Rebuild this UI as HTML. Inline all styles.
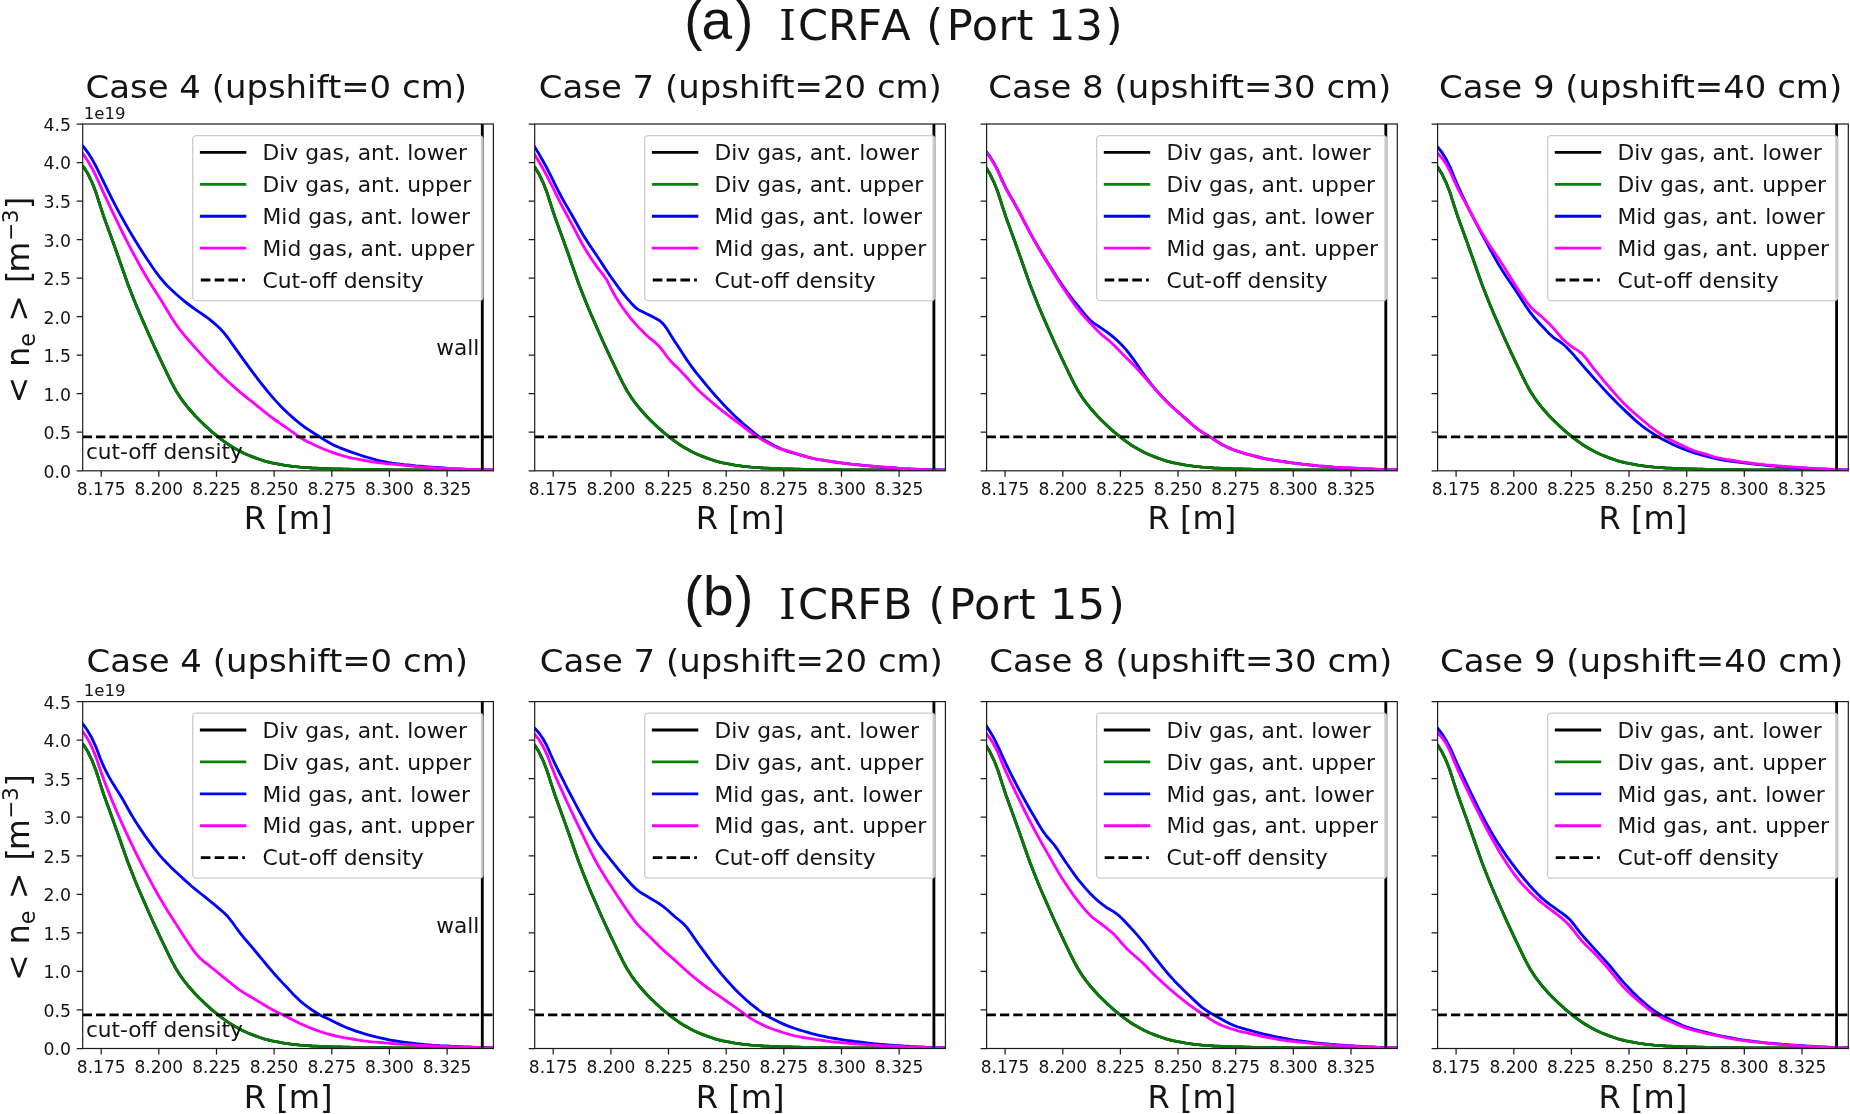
<!DOCTYPE html>
<html lang="en"><head><meta charset="utf-8"><title>ICRF antenna density profiles</title>
<style>html,body{margin:0;padding:0;background:#fff}body{width:1850px;height:1114px;overflow:hidden}svg{display:block;filter:blur(0.45px)}text{font-family:"DejaVu Sans","Liberation Sans",sans-serif;fill:#141414}.la{font-family:"Liberation Sans","DejaVu Sans",sans-serif;font-size:55px}.st{font-size:43px}.sm{font-family:"DejaVu Serif","Liberation Serif",serif}.ti{font-size:32.8px}.tk{font-size:17px}.yk{font-size:17.3px}.ex{font-size:16.6px}.lg{font-size:21.7px}.xl{font-size:32.1px}.yl{font-size:31.6px}.sp{fill:none;stroke:#1c1c1c;stroke-width:1.2}.tm{stroke:#1c1c1c;stroke-width:1.25}.c{fill:none;stroke-width:2.85;stroke-linejoin:round;stroke-linecap:butt}</style></head><body>
<svg width="1850" height="1114" viewBox="0 0 1850 1114">
<rect width="1850" height="1114" fill="#fff"/>
<text class="la" x="684.2 701.5 734.9" y="39.1">(a)</text>
<text class="st" x="779 798 828 857.3 881.2 912 926.3 946.7 971.8 998.5 1016.6 1035 1047.9 1075.5 1105.7" y="39.7"><tspan class="sm">I</tspan>CRFA (Port 13)</text>
<g>
<clipPath id="k00"><rect x="82.7" y="124" width="410.7" height="346.8"/></clipPath>
<text class="ti" transform="translate(276.2 97.8) scale(1.035 1)" text-anchor="middle">Case 4 (upshift=0 cm)</text>
<g clip-path="url(#k00)">
<path class="c" stroke="#000" stroke-width="3" d="M80 163.5L84 167.6L88 174.1L92 182.3L96 192.5L100 205.1L104 217.2L108 228.3L112 239.3L116 250.4L120 261.8L124 273.2L128 284.4L132 294.8L136 304.7L140 314.2L144 323.4L148 332.5L152 341.5L156 350.2L160 358.7L164 367L168 375.4L172 383.4L176 390.7L180 397.1L184 402.7L188 407.7L192 412.3L196 416.7L200 420.7L204 424.6L208 428.3L212 431.9L216 435.2L220 438.4L224 441.4L228 444.2L232 446.8L236 449.1L240 451.2L244 453.2L248 455L252 456.6L256 458.1L260 459.5L264 460.8L268 462L272 462.9L276 463.7L280 464.4L284 465.1L288 465.7L292 466.3L296 466.7L300 467.1L304 467.4L308 467.7L312 468L316 468.2L320 468.4L324 468.6L328 468.7L332 468.8L336 468.9L340 469L344 469.1L348 469.2L352 469.3L356 469.3L360 469.4L364 469.5L368 469.5L372 469.6L376 469.6L380 469.7L384 469.7L388 469.7L392 469.8L396 469.8L400 469.8L404 469.8L408 469.9L412 469.9L416 469.9L420 469.9L424 469.9L428 470L432 470L436 470L440 470L444 470L448 470L452 470L456 470.1L460 470.1L464 470.1L468 470.1L472 470.1L476 470.1L480 470.1L484 470.1L488 470.1L492 470.1L496 470.1"/>
<path class="c" stroke="#087a08" stroke-width="2" d="M80 163.5L84 167.6L88 174.1L92 182.3L96 192.5L100 205.1L104 217.2L108 228.3L112 239.3L116 250.4L120 261.8L124 273.2L128 284.4L132 294.8L136 304.7L140 314.2L144 323.4L148 332.5L152 341.5L156 350.2L160 358.7L164 367L168 375.4L172 383.4L176 390.7L180 397.1L184 402.7L188 407.7L192 412.3L196 416.7L200 420.7L204 424.6L208 428.3L212 431.9L216 435.2L220 438.4L224 441.4L228 444.2L232 446.8L236 449.1L240 451.2L244 453.2L248 455L252 456.6L256 458.1L260 459.5L264 460.8L268 462L272 462.9L276 463.7L280 464.4L284 465.1L288 465.7L292 466.3L296 466.7L300 467.1L304 467.4L308 467.7L312 468L316 468.2L320 468.4L324 468.6L328 468.7L332 468.8L336 468.9L340 469L344 469.1L348 469.2L352 469.3L356 469.3L360 469.4L364 469.5L368 469.5L372 469.6L376 469.6L380 469.7L384 469.7L388 469.7L392 469.8L396 469.8L400 469.8L404 469.8L408 469.9L412 469.9L416 469.9L420 469.9L424 469.9L428 470L432 470L436 470L440 470L444 470L448 470L452 470L456 470.1L460 470.1L464 470.1L468 470.1L472 470.1L476 470.1L480 470.1L484 470.1L488 470.1L492 470.1L496 470.1"/>
<path class="c" stroke="#0000ff" d="M80 142.9L84 147.4L88 152.8L92 159.1L96 166.3L100 174.5L104 182.7L108 190.8L112 198.9L116 206.6L120 214.1L124 221.3L128 228.4L132 235.2L136 241.8L140 248.2L144 254.5L148 260.5L152 266.5L156 272.2L160 277.5L164 282.2L168 286.4L172 290.3L176 294L180 297.5L184 300.9L188 304L192 307L196 309.9L200 312.6L204 315.3L208 318.2L212 321.4L216 324.8L220 328.5L224 332.9L228 338L232 343.6L236 349.3L240 354.8L244 360.3L248 365.8L252 371.3L256 376.6L260 381.8L264 386.9L268 391.9L272 396.6L276 401.1L280 405.4L284 409.4L288 413.3L292 416.9L296 420.4L300 423.7L304 426.7L308 429.4L312 432L316 434.5L320 437L324 439.6L328 442L332 444.3L336 446.1L340 447.8L344 449.3L348 450.8L352 452.3L356 453.7L360 455L364 456.3L368 457.5L372 458.7L376 459.8L380 460.8L384 461.6L388 462.4L392 463.1L396 463.6L400 464.1L404 464.6L408 465L412 465.4L416 465.8L420 466.1L424 466.5L428 466.8L432 467.1L436 467.4L440 467.7L444 468L448 468.3L452 468.6L456 468.8L460 469L464 469.1L468 469.3L472 469.5L476 469.6L480 469.8L484 469.9L488 470L492 470.1L496 470.1"/>
<path class="c" stroke="#ff00ff" d="M80 150L84 155.2L88 161.3L92 168.2L96 176.1L100 185L104 193.8L108 202.4L112 210.9L116 219.2L120 227.4L124 235.5L128 243.4L132 251L136 258.4L140 265.7L144 272.7L148 279.5L152 286L156 292.3L160 298.6L164 305L168 311.7L172 318.3L176 324.4L180 329.9L184 334.8L188 339.5L192 344L196 348.6L200 353L204 357.4L208 361.7L212 365.8L216 369.9L220 373.9L224 377.7L228 381.5L232 385.1L236 388.7L240 392.1L244 395.4L248 398.6L252 401.7L256 404.9L260 408.2L264 411.4L268 414.6L272 417.6L276 420.5L280 423.3L284 426L288 428.8L292 431.7L296 434.7L300 437.4L304 439.7L308 441.9L312 443.8L316 445.7L320 447.5L324 449.2L328 450.8L332 452.2L336 453.6L340 454.9L344 456.1L348 457.1L352 458.1L356 458.9L360 459.7L364 460.4L368 461.1L372 461.8L376 462.4L380 462.9L384 463.4L388 463.8L392 464.2L396 464.5L400 464.9L404 465.3L408 465.7L412 466.1L416 466.5L420 466.8L424 467.1L428 467.4L432 467.6L436 467.9L440 468.1L444 468.3L448 468.4L452 468.6L456 468.8L460 468.9L464 469.1L468 469.3L472 469.4L476 469.6L480 469.7L484 469.8L488 469.9L492 470.1L496 470.2"/>
<path class="c" stroke="#000" stroke-width="2.4" stroke-dasharray="9.3 4.05" d="M82.7 436.8H493.4"/>
<path class="c" stroke="#000" stroke-width="2.7" d="M482.3 124V470.8"/>
</g>
<text class="lg" x="479.3" y="355.4" text-anchor="end">wall</text>
<text class="lg" x="85.9" y="459.4">cut-off density</text>
<rect x="192.7" y="135.6" width="290.2" height="165" rx="3.5" fill="#fff" fill-opacity="0.8" stroke="#ccc" stroke-width="1.3"/>
<path class="c" stroke="#000" d="M199.9 152.4H246.3"/>
<text class="lg" transform="translate(262.5 160.1) scale(1.006 1)">Div gas, ant. lower</text>
<path class="c" stroke="#0a800a" d="M199.9 184.3H246.3"/>
<text class="lg" transform="translate(262.5 192) scale(1.006 1)">Div gas, ant. upper</text>
<path class="c" stroke="#0000ff" d="M199.9 216.2H246.3"/>
<text class="lg" transform="translate(262.5 223.9) scale(1.006 1)">Mid gas, ant. lower</text>
<path class="c" stroke="#ff00ff" d="M199.9 248.1H246.3"/>
<text class="lg" transform="translate(262.5 255.8) scale(1.006 1)">Mid gas, ant. upper</text>
<path class="c" stroke="#000" stroke-width="2.4" stroke-dasharray="9.6 4.2" d="M200.8 280H244.9"/>
<text class="lg" transform="translate(262.5 287.7) scale(1.006 1)">Cut-off density</text>
<rect class="sp" x="82.7" y="124" width="410.7" height="346.8"/>
<path class="tm" d="M101.2 470.8v6M158.8 470.8v6M216.5 470.8v6M274.1 470.8v6M331.8 470.8v6M389.4 470.8v6M447.1 470.8v6M82.7 470.8h-6M82.7 432.2h-6M82.7 393.7h-6M82.7 355.2h-6M82.7 316.6h-6M82.7 278.1h-6M82.7 239.6h-6M82.7 201.1h-6M82.7 162.5h-6M82.7 124h-6"/>
<text class="tk" x="101.2" y="495" text-anchor="middle">8.175</text>
<text class="tk" x="158.8" y="495" text-anchor="middle">8.200</text>
<text class="tk" x="216.5" y="495" text-anchor="middle">8.225</text>
<text class="tk" x="274.1" y="495" text-anchor="middle">8.250</text>
<text class="tk" x="331.8" y="495" text-anchor="middle">8.275</text>
<text class="tk" x="389.4" y="495" text-anchor="middle">8.300</text>
<text class="tk" x="447.1" y="495" text-anchor="middle">8.325</text>
<text class="yk" x="71.1" y="477.6" text-anchor="end">0.0</text>
<text class="yk" x="71.1" y="439.1" text-anchor="end">0.5</text>
<text class="yk" x="71.1" y="400.6" text-anchor="end">1.0</text>
<text class="yk" x="71.1" y="362.1" text-anchor="end">1.5</text>
<text class="yk" x="71.1" y="323.5" text-anchor="end">2.0</text>
<text class="yk" x="71.1" y="285" text-anchor="end">2.5</text>
<text class="yk" x="71.1" y="246.5" text-anchor="end">3.0</text>
<text class="yk" x="71.1" y="208" text-anchor="end">3.5</text>
<text class="yk" x="71.1" y="169.4" text-anchor="end">4.0</text>
<text class="yk" x="71.1" y="130.9" text-anchor="end">4.5</text>
<text class="ex" x="83.7" y="119">1e19</text>
<text class="yl" transform="translate(29.3 299.9) rotate(-90)" text-anchor="middle">&lt; n<tspan dy="5.3" font-size="22.1px">e</tspan><tspan dy="-5.3" dx="1.5"> &gt;</tspan><tspan dx="2"> [</tspan><tspan dx="-1.8">m</tspan><tspan dy="-11.2" dx="0.6" font-size="21.6px">−</tspan><tspan dx="-0.3" font-size="21.6px">3</tspan><tspan dy="11.2" dx="0.6">]</tspan></text>
<text class="xl" x="288.1" y="529.2" text-anchor="middle">R [m]</text>
</g>
<g>
<clipPath id="k01"><rect x="534.7" y="124" width="410.7" height="346.8"/></clipPath>
<text class="ti" transform="translate(740.3 97.8) scale(1.035 1)" text-anchor="middle">Case 7 (upshift=20 cm)</text>
<g clip-path="url(#k01)">
<path class="c" stroke="#000" stroke-width="3" d="M531 163.5L535 167.6L539 174.1L543 182.3L547 192.5L551 205.1L555 217.2L559 228.3L563 239.3L567 250.4L571 261.8L575 273.2L579 284.4L583 294.8L587 304.7L591 314.2L595 323.4L599 332.5L603 341.5L607 350.2L611 358.7L615 367L619 375.4L623 383.4L627 390.7L631 397.1L635 402.7L639 407.7L643 412.3L647 416.7L651 420.7L655 424.6L659 428.3L663 431.9L667 435.2L671 438.4L675 441.4L679 444.2L683 446.8L687 449.1L691 451.2L695 453.2L699 455L703 456.6L707 458.1L711 459.5L715 460.8L719 462L723 462.9L727 463.7L731 464.4L735 465.1L739 465.7L743 466.3L747 466.7L751 467.1L755 467.4L759 467.7L763 468L767 468.2L771 468.4L775 468.6L779 468.7L783 468.8L787 468.9L791 469L795 469.1L799 469.2L803 469.3L807 469.3L811 469.4L815 469.5L819 469.5L823 469.6L827 469.6L831 469.7L835 469.7L839 469.7L843 469.8L847 469.8L851 469.8L855 469.8L859 469.9L863 469.9L867 469.9L871 469.9L875 469.9L879 470L883 470L887 470L891 470L895 470L899 470L903 470L907 470.1L911 470.1L915 470.1L919 470.1L923 470.1L927 470.1L931 470.1L935 470.1L939 470.1L943 470.1L947 470.1"/>
<path class="c" stroke="#087a08" stroke-width="2" d="M531 163.5L535 167.6L539 174.1L543 182.3L547 192.5L551 205.1L555 217.2L559 228.3L563 239.3L567 250.4L571 261.8L575 273.2L579 284.4L583 294.8L587 304.7L591 314.2L595 323.4L599 332.5L603 341.5L607 350.2L611 358.7L615 367L619 375.4L623 383.4L627 390.7L631 397.1L635 402.7L639 407.7L643 412.3L647 416.7L651 420.7L655 424.6L659 428.3L663 431.9L667 435.2L671 438.4L675 441.4L679 444.2L683 446.8L687 449.1L691 451.2L695 453.2L699 455L703 456.6L707 458.1L711 459.5L715 460.8L719 462L723 462.9L727 463.7L731 464.4L735 465.1L739 465.7L743 466.3L747 466.7L751 467.1L755 467.4L759 467.7L763 468L767 468.2L771 468.4L775 468.6L779 468.7L783 468.8L787 468.9L791 469L795 469.1L799 469.2L803 469.3L807 469.3L811 469.4L815 469.5L819 469.5L823 469.6L827 469.6L831 469.7L835 469.7L839 469.7L843 469.8L847 469.8L851 469.8L855 469.8L859 469.9L863 469.9L867 469.9L871 469.9L875 469.9L879 470L883 470L887 470L891 470L895 470L899 470L903 470L907 470.1L911 470.1L915 470.1L919 470.1L923 470.1L927 470.1L931 470.1L935 470.1L939 470.1L943 470.1L947 470.1"/>
<path class="c" stroke="#0000ff" d="M531 141L535 147.4L539 154L543 161L547 168.3L551 176.1L555 184.3L559 192.3L563 199.7L567 206.6L571 213.5L575 220.5L579 227.7L583 234.7L587 241.1L591 247.1L595 253L599 259L603 265.1L607 271.2L611 277.1L615 282.7L619 288.2L623 293.5L627 298.3L631 302.9L635 307.1L639 310.1L643 312.1L647 314L651 315.9L655 317.9L659 320.2L663 323.6L667 328.9L671 335.4L675 341.8L679 347.8L683 354L687 360.1L691 365.8L695 371.1L699 376.1L703 381L707 385.8L711 390.6L715 395.2L719 399.6L723 404L727 408.2L731 412.3L735 416.2L739 419.9L743 423.5L747 426.9L751 430.3L755 433.6L759 436.6L763 439.2L767 441.6L771 443.8L775 446L779 447.9L783 449.7L787 451.1L791 452.4L795 453.5L799 454.6L803 455.7L807 456.9L811 457.9L815 458.8L819 459.6L823 460.2L827 460.8L831 461.4L835 462L839 462.6L843 463.1L847 463.6L851 464.1L855 464.5L859 464.9L863 465.4L867 465.7L871 466.1L875 466.5L879 466.8L883 467.1L887 467.4L891 467.7L895 468L899 468.3L903 468.6L907 468.8L911 469L915 469.1L919 469.3L923 469.5L927 469.6L931 469.8L935 469.9L939 470L943 470.1L947 470.1"/>
<path class="c" stroke="#ff00ff" d="M531 148.8L535 155.2L539 161.8L543 168.8L547 176.1L551 183.8L555 192L559 200.1L563 207.8L567 215.2L571 222.7L575 230.2L579 238L583 245.4L587 252.1L591 258.2L595 264L599 269.6L603 274.6L607 280.3L611 288.5L615 295.8L619 302.3L623 308.2L627 313.7L631 318.8L635 323.4L639 327.8L643 331.8L647 335.7L651 339.2L655 342.4L659 346.1L663 351L667 356.7L671 361.4L675 365.4L679 369.2L683 373.4L687 377.8L691 382.4L695 386.8L699 390.8L703 394.5L707 398L711 401.5L715 404.9L719 408.1L723 411.3L727 414.4L731 417.5L735 420.4L739 423.4L743 426.4L747 429.5L751 432.5L755 435.3L759 437.9L763 440.3L767 442.6L771 444.8L775 446.7L779 448.4L783 449.6L787 450.7L791 451.9L795 453.2L799 454.6L803 455.8L807 456.9L811 457.9L815 458.8L819 459.6L823 460.2L827 460.8L831 461.4L835 462L839 462.6L843 463.1L847 463.6L851 464.1L855 464.5L859 464.9L863 465.4L867 465.7L871 466.1L875 466.5L879 466.8L883 467.1L887 467.4L891 467.7L895 468L899 468.3L903 468.6L907 468.8L911 469L915 469.1L919 469.3L923 469.5L927 469.6L931 469.8L935 469.9L939 470L943 470.1L947 470.1"/>
<path class="c" stroke="#000" stroke-width="2.4" stroke-dasharray="9.3 4.05" d="M534.7 436.8H945.4"/>
<path class="c" stroke="#000" stroke-width="2.7" d="M933.9 124V470.8"/>
</g>
<rect x="644.7" y="135.6" width="290.2" height="165" rx="3.5" fill="#fff" fill-opacity="0.8" stroke="#ccc" stroke-width="1.3"/>
<path class="c" stroke="#000" d="M651.9 152.4H698.3"/>
<text class="lg" transform="translate(714.5 160.1) scale(1.006 1)">Div gas, ant. lower</text>
<path class="c" stroke="#0a800a" d="M651.9 184.3H698.3"/>
<text class="lg" transform="translate(714.5 192) scale(1.006 1)">Div gas, ant. upper</text>
<path class="c" stroke="#0000ff" d="M651.9 216.2H698.3"/>
<text class="lg" transform="translate(714.5 223.9) scale(1.006 1)">Mid gas, ant. lower</text>
<path class="c" stroke="#ff00ff" d="M651.9 248.1H698.3"/>
<text class="lg" transform="translate(714.5 255.8) scale(1.006 1)">Mid gas, ant. upper</text>
<path class="c" stroke="#000" stroke-width="2.4" stroke-dasharray="9.6 4.2" d="M652.8 280H696.9"/>
<text class="lg" transform="translate(714.5 287.7) scale(1.006 1)">Cut-off density</text>
<rect class="sp" x="534.7" y="124" width="410.7" height="346.8"/>
<path class="tm" d="M553.2 470.8v6M610.9 470.8v6M668.5 470.8v6M726.2 470.8v6M783.8 470.8v6M841.5 470.8v6M899.1 470.8v6M534.7 470.8h-6M534.7 432.2h-6M534.7 393.7h-6M534.7 355.2h-6M534.7 316.6h-6M534.7 278.1h-6M534.7 239.6h-6M534.7 201.1h-6M534.7 162.5h-6M534.7 124h-6"/>
<text class="tk" x="553.2" y="495" text-anchor="middle">8.175</text>
<text class="tk" x="610.9" y="495" text-anchor="middle">8.200</text>
<text class="tk" x="668.5" y="495" text-anchor="middle">8.225</text>
<text class="tk" x="726.2" y="495" text-anchor="middle">8.250</text>
<text class="tk" x="783.8" y="495" text-anchor="middle">8.275</text>
<text class="tk" x="841.5" y="495" text-anchor="middle">8.300</text>
<text class="tk" x="899.1" y="495" text-anchor="middle">8.325</text>
<text class="xl" x="740.1" y="529.2" text-anchor="middle">R [m]</text>
</g>
<g>
<clipPath id="k02"><rect x="986.6" y="124" width="410.7" height="346.8"/></clipPath>
<text class="ti" transform="translate(1189.8 97.8) scale(1.035 1)" text-anchor="middle">Case 8 (upshift=30 cm)</text>
<g clip-path="url(#k02)">
<path class="c" stroke="#000" stroke-width="3" d="M982 163.5L986 167.6L990 174.1L994 182.3L998 192.5L1002 205.1L1006 217.2L1010 228.3L1014 239.3L1018 250.4L1022 261.8L1026 273.2L1030 284.4L1034 294.8L1038 304.7L1042 314.2L1046 323.4L1050 332.5L1054 341.5L1058 350.2L1062 358.7L1066 367L1070 375.4L1074 383.4L1078 390.7L1082 397.1L1086 402.7L1090 407.7L1094 412.3L1098 416.7L1102 420.7L1106 424.6L1110 428.3L1114 431.9L1118 435.2L1122 438.4L1126 441.4L1130 444.2L1134 446.8L1138 449.1L1142 451.2L1146 453.2L1150 455L1154 456.6L1158 458.1L1162 459.5L1166 460.8L1170 462L1174 462.9L1178 463.7L1182 464.4L1186 465.1L1190 465.7L1194 466.3L1198 466.7L1202 467.1L1206 467.4L1210 467.7L1214 468L1218 468.2L1222 468.4L1226 468.6L1230 468.7L1234 468.8L1238 468.9L1242 469L1246 469.1L1250 469.2L1254 469.3L1258 469.3L1262 469.4L1266 469.5L1270 469.5L1274 469.6L1278 469.6L1282 469.7L1286 469.7L1290 469.7L1294 469.8L1298 469.8L1302 469.8L1306 469.8L1310 469.9L1314 469.9L1318 469.9L1322 469.9L1326 469.9L1330 470L1334 470L1338 470L1342 470L1346 470L1350 470L1354 470L1358 470.1L1362 470.1L1366 470.1L1370 470.1L1374 470.1L1378 470.1L1382 470.1L1386 470.1L1390 470.1L1394 470.1L1398 470.1"/>
<path class="c" stroke="#087a08" stroke-width="2" d="M982 163.5L986 167.6L990 174.1L994 182.3L998 192.5L1002 205.1L1006 217.2L1010 228.3L1014 239.3L1018 250.4L1022 261.8L1026 273.2L1030 284.4L1034 294.8L1038 304.7L1042 314.2L1046 323.4L1050 332.5L1054 341.5L1058 350.2L1062 358.7L1066 367L1070 375.4L1074 383.4L1078 390.7L1082 397.1L1086 402.7L1090 407.7L1094 412.3L1098 416.7L1102 420.7L1106 424.6L1110 428.3L1114 431.9L1118 435.2L1122 438.4L1126 441.4L1130 444.2L1134 446.8L1138 449.1L1142 451.2L1146 453.2L1150 455L1154 456.6L1158 458.1L1162 459.5L1166 460.8L1170 462L1174 462.9L1178 463.7L1182 464.4L1186 465.1L1190 465.7L1194 466.3L1198 466.7L1202 467.1L1206 467.4L1210 467.7L1214 468L1218 468.2L1222 468.4L1226 468.6L1230 468.7L1234 468.8L1238 468.9L1242 469L1246 469.1L1250 469.2L1254 469.3L1258 469.3L1262 469.4L1266 469.5L1270 469.5L1274 469.6L1278 469.6L1282 469.7L1286 469.7L1290 469.7L1294 469.8L1298 469.8L1302 469.8L1306 469.8L1310 469.9L1314 469.9L1318 469.9L1322 469.9L1326 469.9L1330 470L1334 470L1338 470L1342 470L1346 470L1350 470L1354 470L1358 470.1L1362 470.1L1366 470.1L1370 470.1L1374 470.1L1378 470.1L1382 470.1L1386 470.1L1390 470.1L1394 470.1L1398 470.1"/>
<path class="c" stroke="#0000ff" d="M982 147.5L986 151.4L990 156.7L994 163.1L998 170.8L1002 179.9L1006 188.2L1010 195.5L1014 202.5L1018 209.7L1022 217.3L1026 225.1L1030 232.7L1034 239.9L1038 246.8L1042 253.4L1046 259.9L1050 266.3L1054 272.6L1058 278.9L1062 284.9L1066 290.5L1070 295.9L1074 301.1L1078 306L1082 310.9L1086 315.8L1090 320.1L1094 323.4L1098 325.9L1102 328.6L1106 331.4L1110 334.4L1114 337.6L1118 341.3L1122 345.3L1126 349.6L1130 354.7L1134 360.2L1138 365.8L1142 371.7L1146 377.4L1150 382.7L1154 387.6L1158 392.3L1162 396.7L1166 400.8L1170 404.7L1174 408.5L1178 412L1182 415.5L1186 418.9L1190 422.6L1194 426.2L1198 429.4L1202 432.1L1206 434.5L1210 436.9L1214 439.5L1218 442.1L1222 444.5L1226 446.5L1230 448.4L1234 450L1238 451.4L1242 452.7L1246 453.9L1250 454.9L1254 456L1258 457L1262 458L1266 458.8L1270 459.5L1274 460.2L1278 460.8L1282 461.4L1286 462L1290 462.6L1294 463.1L1298 463.6L1302 464.1L1306 464.5L1310 465L1314 465.4L1318 465.8L1322 466.1L1326 466.5L1330 466.8L1334 467.1L1338 467.3L1342 467.6L1346 467.8L1350 468L1354 468.2L1358 468.5L1362 468.7L1366 468.9L1370 469L1374 469.2L1378 469.4L1382 469.6L1386 469.7L1390 469.9L1394 470L1398 470.2"/>
<path class="c" stroke="#ff00ff" d="M982 148.1L986 152L990 157.3L994 163.7L998 171.4L1002 180.6L1006 188.8L1010 195.8L1014 202.6L1018 209.7L1022 217.2L1026 225L1030 232.7L1034 240L1038 246.9L1042 253.7L1046 260.4L1050 267L1054 273.6L1058 280L1062 286.3L1066 292.3L1070 298.1L1074 303.8L1078 309.1L1082 314L1086 318.6L1090 322.9L1094 327.1L1098 331.2L1102 334.9L1106 338.2L1110 341.5L1114 345.3L1118 349.3L1122 353.4L1126 357.4L1130 361.4L1134 365.4L1138 369.7L1142 374.2L1146 378.7L1150 383.3L1154 387.9L1158 392.4L1162 396.7L1166 400.8L1170 404.7L1174 408.5L1178 412L1182 415.5L1186 418.9L1190 422.6L1194 426.2L1198 429.4L1202 432.1L1206 434.5L1210 436.9L1214 439.5L1218 442.1L1222 444.5L1226 446.5L1230 448.4L1234 450L1238 451.4L1242 452.7L1246 453.9L1250 454.9L1254 456L1258 457L1262 458L1266 458.8L1270 459.5L1274 460.2L1278 460.8L1282 461.4L1286 462L1290 462.6L1294 463.1L1298 463.6L1302 464.1L1306 464.5L1310 465L1314 465.4L1318 465.8L1322 466.1L1326 466.5L1330 466.8L1334 467.1L1338 467.3L1342 467.6L1346 467.8L1350 468L1354 468.2L1358 468.5L1362 468.7L1366 468.9L1370 469L1374 469.2L1378 469.4L1382 469.6L1386 469.7L1390 469.9L1394 470L1398 470.2"/>
<path class="c" stroke="#000" stroke-width="2.4" stroke-dasharray="9.3 4.05" d="M986.6 436.8H1397.3"/>
<path class="c" stroke="#000" stroke-width="2.7" d="M1385.8 124V470.8"/>
</g>
<rect x="1096.6" y="135.6" width="290.2" height="165" rx="3.5" fill="#fff" fill-opacity="0.8" stroke="#ccc" stroke-width="1.3"/>
<path class="c" stroke="#000" d="M1103.8 152.4H1150.2"/>
<text class="lg" transform="translate(1166.4 160.1) scale(1.006 1)">Div gas, ant. lower</text>
<path class="c" stroke="#0a800a" d="M1103.8 184.3H1150.2"/>
<text class="lg" transform="translate(1166.4 192) scale(1.006 1)">Div gas, ant. upper</text>
<path class="c" stroke="#0000ff" d="M1103.8 216.2H1150.2"/>
<text class="lg" transform="translate(1166.4 223.9) scale(1.006 1)">Mid gas, ant. lower</text>
<path class="c" stroke="#ff00ff" d="M1103.8 248.1H1150.2"/>
<text class="lg" transform="translate(1166.4 255.8) scale(1.006 1)">Mid gas, ant. upper</text>
<path class="c" stroke="#000" stroke-width="2.4" stroke-dasharray="9.6 4.2" d="M1104.7 280H1148.8"/>
<text class="lg" transform="translate(1166.4 287.7) scale(1.006 1)">Cut-off density</text>
<rect class="sp" x="986.6" y="124" width="410.7" height="346.8"/>
<path class="tm" d="M1005.1 470.8v6M1062.8 470.8v6M1120.4 470.8v6M1178 470.8v6M1235.7 470.8v6M1293.3 470.8v6M1351 470.8v6M986.6 470.8h-6M986.6 432.2h-6M986.6 393.7h-6M986.6 355.2h-6M986.6 316.6h-6M986.6 278.1h-6M986.6 239.6h-6M986.6 201.1h-6M986.6 162.5h-6M986.6 124h-6"/>
<text class="tk" x="1005.1" y="495" text-anchor="middle">8.175</text>
<text class="tk" x="1062.8" y="495" text-anchor="middle">8.200</text>
<text class="tk" x="1120.4" y="495" text-anchor="middle">8.225</text>
<text class="tk" x="1178" y="495" text-anchor="middle">8.250</text>
<text class="tk" x="1235.7" y="495" text-anchor="middle">8.275</text>
<text class="tk" x="1293.3" y="495" text-anchor="middle">8.300</text>
<text class="tk" x="1351" y="495" text-anchor="middle">8.325</text>
<text class="xl" x="1192" y="529.2" text-anchor="middle">R [m]</text>
</g>
<g>
<clipPath id="k03"><rect x="1437.6" y="124" width="410.7" height="346.8"/></clipPath>
<text class="ti" transform="translate(1640.6 97.8) scale(1.035 1)" text-anchor="middle">Case 9 (upshift=40 cm)</text>
<g clip-path="url(#k03)">
<path class="c" stroke="#000" stroke-width="3" d="M1434 163.5L1438 167.6L1442 174.1L1446 182.3L1450 192.5L1454 205.1L1458 217.2L1462 228.3L1466 239.3L1470 250.4L1474 261.8L1478 273.2L1482 284.4L1486 294.8L1490 304.7L1494 314.2L1498 323.4L1502 332.5L1506 341.5L1510 350.2L1514 358.7L1518 367L1522 375.4L1526 383.4L1530 390.7L1534 397.1L1538 402.7L1542 407.7L1546 412.3L1550 416.7L1554 420.7L1558 424.6L1562 428.3L1566 431.9L1570 435.2L1574 438.4L1578 441.4L1582 444.2L1586 446.8L1590 449.1L1594 451.2L1598 453.2L1602 455L1606 456.6L1610 458.1L1614 459.5L1618 460.8L1622 462L1626 462.9L1630 463.7L1634 464.4L1638 465.1L1642 465.7L1646 466.3L1650 466.7L1654 467.1L1658 467.4L1662 467.7L1666 468L1670 468.2L1674 468.4L1678 468.6L1682 468.7L1686 468.8L1690 468.9L1694 469L1698 469.1L1702 469.2L1706 469.3L1710 469.3L1714 469.4L1718 469.5L1722 469.5L1726 469.6L1730 469.6L1734 469.7L1738 469.7L1742 469.7L1746 469.8L1750 469.8L1754 469.8L1758 469.8L1762 469.9L1766 469.9L1770 469.9L1774 469.9L1778 469.9L1782 470L1786 470L1790 470L1794 470L1798 470L1802 470L1806 470L1810 470.1L1814 470.1L1818 470.1L1822 470.1L1826 470.1L1830 470.1L1834 470.1L1838 470.1L1842 470.1L1846 470.1L1850 470.1"/>
<path class="c" stroke="#087a08" stroke-width="2" d="M1434 163.5L1438 167.6L1442 174.1L1446 182.3L1450 192.5L1454 205.1L1458 217.2L1462 228.3L1466 239.3L1470 250.4L1474 261.8L1478 273.2L1482 284.4L1486 294.8L1490 304.7L1494 314.2L1498 323.4L1502 332.5L1506 341.5L1510 350.2L1514 358.7L1518 367L1522 375.4L1526 383.4L1530 390.7L1534 397.1L1538 402.7L1542 407.7L1546 412.3L1550 416.7L1554 420.7L1558 424.6L1562 428.3L1566 431.9L1570 435.2L1574 438.4L1578 441.4L1582 444.2L1586 446.8L1590 449.1L1594 451.2L1598 453.2L1602 455L1606 456.6L1610 458.1L1614 459.5L1618 460.8L1622 462L1626 462.9L1630 463.7L1634 464.4L1638 465.1L1642 465.7L1646 466.3L1650 466.7L1654 467.1L1658 467.4L1662 467.7L1666 468L1670 468.2L1674 468.4L1678 468.6L1682 468.7L1686 468.8L1690 468.9L1694 469L1698 469.1L1702 469.2L1706 469.3L1710 469.3L1714 469.4L1718 469.5L1722 469.5L1726 469.6L1730 469.6L1734 469.7L1738 469.7L1742 469.7L1746 469.8L1750 469.8L1754 469.8L1758 469.8L1762 469.9L1766 469.9L1770 469.9L1774 469.9L1778 469.9L1782 470L1786 470L1790 470L1794 470L1798 470L1802 470L1806 470L1810 470.1L1814 470.1L1818 470.1L1822 470.1L1826 470.1L1830 470.1L1834 470.1L1838 470.1L1842 470.1L1846 470.1L1850 470.1"/>
<path class="c" stroke="#0000ff" d="M1434 144L1438 147.4L1442 152.5L1446 159L1450 166.9L1454 176.8L1458 186.1L1462 194.8L1466 203.2L1470 211.4L1474 219.2L1478 226.8L1482 234.2L1486 241.6L1490 249.1L1494 256.4L1498 263.4L1502 270L1506 276.2L1510 282L1514 287.9L1518 293.9L1522 300.2L1526 306.4L1530 312.1L1534 317.2L1538 321.7L1542 326L1546 330.3L1550 334.4L1554 338L1558 340.5L1562 343.2L1566 346.7L1570 350.9L1574 355.3L1578 360L1582 364.7L1586 369.2L1590 373.7L1594 378.2L1598 382.6L1602 387.1L1606 391.5L1610 395.7L1614 399.8L1618 403.9L1622 407.8L1626 411.6L1630 415.4L1634 419.1L1638 422.6L1642 425.8L1646 428.8L1650 431.6L1654 434.2L1658 436.7L1662 439L1666 441.1L1670 443.1L1674 445L1678 446.7L1682 448.4L1686 450L1690 451.5L1694 452.8L1698 454L1702 455.1L1706 456.1L1710 457.2L1714 458.2L1718 459.1L1722 459.9L1726 460.5L1730 461.1L1734 461.7L1738 462.2L1742 462.7L1746 463.2L1750 463.6L1754 464.1L1758 464.5L1762 464.9L1766 465.4L1770 465.8L1774 466.1L1778 466.5L1782 466.8L1786 467.1L1790 467.3L1794 467.6L1798 467.8L1802 468L1806 468.2L1810 468.5L1814 468.7L1818 468.9L1822 469L1826 469.2L1830 469.4L1834 469.6L1838 469.7L1842 469.9L1846 470L1850 470.2"/>
<path class="c" stroke="#ff00ff" d="M1434 150.9L1438 153.6L1442 158.1L1446 163.9L1450 171.2L1454 180.4L1458 188.9L1462 196.6L1466 203.9L1470 211.2L1474 218.7L1478 226L1482 233.1L1486 239.8L1490 245.9L1494 251.7L1498 257.6L1502 263.7L1506 270.2L1510 276.8L1514 283.1L1518 289.2L1522 295.3L1526 301L1530 306.2L1534 310.3L1538 313.7L1542 317L1546 320.7L1550 324.6L1554 328.9L1558 333.7L1562 338.3L1566 342L1570 345.3L1574 348.1L1578 350.6L1582 353.6L1586 358.2L1590 363.6L1594 368.8L1598 373.7L1602 378.6L1606 383.4L1610 388L1614 392.6L1618 397.1L1622 401.4L1626 405.4L1630 409.2L1634 412.8L1638 416.3L1642 419.7L1646 423L1650 426.3L1654 429.4L1658 432.2L1662 434.8L1666 437.2L1670 439.4L1674 441.5L1678 443.5L1682 445.4L1686 447.3L1690 449.1L1694 450.7L1698 452L1702 453.1L1706 454.2L1710 455.5L1714 456.8L1718 457.9L1722 458.6L1726 459.3L1730 459.9L1734 460.5L1738 461.1L1742 461.8L1746 462.4L1750 463L1754 463.5L1758 463.9L1762 464.4L1766 464.8L1770 465.1L1774 465.5L1778 465.8L1782 466.2L1786 466.5L1790 466.8L1794 467.1L1798 467.4L1802 467.6L1806 467.9L1810 468.1L1814 468.4L1818 468.6L1822 468.8L1826 469L1830 469.3L1834 469.5L1838 469.7L1842 469.8L1846 470L1850 470.2"/>
<path class="c" stroke="#000" stroke-width="2.4" stroke-dasharray="9.3 4.05" d="M1437.6 436.8H1848.3"/>
<path class="c" stroke="#000" stroke-width="2.7" d="M1836.6 124V470.8"/>
</g>
<rect x="1547.6" y="135.6" width="290.2" height="165" rx="3.5" fill="#fff" fill-opacity="0.8" stroke="#ccc" stroke-width="1.3"/>
<path class="c" stroke="#000" d="M1554.8 152.4H1601.2"/>
<text class="lg" transform="translate(1617.4 160.1) scale(1.006 1)">Div gas, ant. lower</text>
<path class="c" stroke="#0a800a" d="M1554.8 184.3H1601.2"/>
<text class="lg" transform="translate(1617.4 192) scale(1.006 1)">Div gas, ant. upper</text>
<path class="c" stroke="#0000ff" d="M1554.8 216.2H1601.2"/>
<text class="lg" transform="translate(1617.4 223.9) scale(1.006 1)">Mid gas, ant. lower</text>
<path class="c" stroke="#ff00ff" d="M1554.8 248.1H1601.2"/>
<text class="lg" transform="translate(1617.4 255.8) scale(1.006 1)">Mid gas, ant. upper</text>
<path class="c" stroke="#000" stroke-width="2.4" stroke-dasharray="9.6 4.2" d="M1555.7 280H1599.8"/>
<text class="lg" transform="translate(1617.4 287.7) scale(1.006 1)">Cut-off density</text>
<rect class="sp" x="1437.6" y="124" width="410.7" height="346.8"/>
<path class="tm" d="M1456.1 470.8v6M1513.8 470.8v6M1571.4 470.8v6M1629 470.8v6M1686.7 470.8v6M1744.3 470.8v6M1802 470.8v6M1437.6 470.8h-6M1437.6 432.2h-6M1437.6 393.7h-6M1437.6 355.2h-6M1437.6 316.6h-6M1437.6 278.1h-6M1437.6 239.6h-6M1437.6 201.1h-6M1437.6 162.5h-6M1437.6 124h-6"/>
<text class="tk" x="1456.1" y="495" text-anchor="middle">8.175</text>
<text class="tk" x="1513.8" y="495" text-anchor="middle">8.200</text>
<text class="tk" x="1571.4" y="495" text-anchor="middle">8.225</text>
<text class="tk" x="1629" y="495" text-anchor="middle">8.250</text>
<text class="tk" x="1686.7" y="495" text-anchor="middle">8.275</text>
<text class="tk" x="1744.3" y="495" text-anchor="middle">8.300</text>
<text class="tk" x="1802" y="495" text-anchor="middle">8.325</text>
<text class="xl" x="1642.9" y="529.2" text-anchor="middle">R [m]</text>
</g>
<text class="la" x="684.2 703 734.9" y="614.5">(b)</text>
<text class="st" x="779 798 828 857.3 883.1 914.2 928.5 948.9 974 1000.7 1018.8 1037.2 1050.1 1077.7 1107.9" y="619.2"><tspan class="sm">I</tspan>CRFB (Port 15)</text>
<g>
<clipPath id="k10"><rect x="82.7" y="701.6" width="410.7" height="346.9"/></clipPath>
<text class="ti" transform="translate(277.2 672) scale(1.035 1)" text-anchor="middle">Case 4 (upshift=0 cm)</text>
<g clip-path="url(#k10)">
<path class="c" stroke="#000" stroke-width="3" d="M80 741.5L84 745.6L88 752.1L92 760.3L96 770.5L100 783.1L104 795.2L108 806.3L112 817.3L116 828.4L120 839.8L124 851.2L128 862.4L132 872.8L136 882.7L140 892.2L144 901.4L148 910.5L152 919.5L156 928.2L160 936.7L164 945L168 953.4L172 961.4L176 968.7L180 975.1L184 980.7L188 985.7L192 990.3L196 994.7L200 998.7L204 1002.6L208 1006.3L212 1009.9L216 1013.2L220 1016.4L224 1019.4L228 1022.2L232 1024.8L236 1027.1L240 1029.2L244 1031.2L248 1033L252 1034.6L256 1036.1L260 1037.5L264 1038.8L268 1040L272 1040.9L276 1041.7L280 1042.4L284 1043.1L288 1043.7L292 1044.3L296 1044.7L300 1045.1L304 1045.4L308 1045.7L312 1046L316 1046.2L320 1046.4L324 1046.6L328 1046.7L332 1046.8L336 1046.9L340 1047L344 1047.1L348 1047.2L352 1047.3L356 1047.3L360 1047.4L364 1047.5L368 1047.5L372 1047.6L376 1047.6L380 1047.7L384 1047.7L388 1047.7L392 1047.8L396 1047.8L400 1047.8L404 1047.8L408 1047.9L412 1047.9L416 1047.9L420 1047.9L424 1047.9L428 1048L432 1048L436 1048L440 1048L444 1048L448 1048L452 1048L456 1048.1L460 1048.1L464 1048.1L468 1048.1L472 1048.1L476 1048.1L480 1048.1L484 1048.1L488 1048.1L492 1048.1L496 1048.1"/>
<path class="c" stroke="#087a08" stroke-width="2" d="M80 741.5L84 745.6L88 752.1L92 760.3L96 770.5L100 783.1L104 795.2L108 806.3L112 817.3L116 828.4L120 839.8L124 851.2L128 862.4L132 872.8L136 882.7L140 892.2L144 901.4L148 910.5L152 919.5L156 928.2L160 936.7L164 945L168 953.4L172 961.4L176 968.7L180 975.1L184 980.7L188 985.7L192 990.3L196 994.7L200 998.7L204 1002.6L208 1006.3L212 1009.9L216 1013.2L220 1016.4L224 1019.4L228 1022.2L232 1024.8L236 1027.1L240 1029.2L244 1031.2L248 1033L252 1034.6L256 1036.1L260 1037.5L264 1038.8L268 1040L272 1040.9L276 1041.7L280 1042.4L284 1043.1L288 1043.7L292 1044.3L296 1044.7L300 1045.1L304 1045.4L308 1045.7L312 1046L316 1046.2L320 1046.4L324 1046.6L328 1046.7L332 1046.8L336 1046.9L340 1047L344 1047.1L348 1047.2L352 1047.3L356 1047.3L360 1047.4L364 1047.5L368 1047.5L372 1047.6L376 1047.6L380 1047.7L384 1047.7L388 1047.7L392 1047.8L396 1047.8L400 1047.8L404 1047.8L408 1047.9L412 1047.9L416 1047.9L420 1047.9L424 1047.9L428 1048L432 1048L436 1048L440 1048L444 1048L448 1048L452 1048L456 1048.1L460 1048.1L464 1048.1L468 1048.1L472 1048.1L476 1048.1L480 1048.1L484 1048.1L488 1048.1L492 1048.1L496 1048.1"/>
<path class="c" stroke="#0000ff" d="M80 721.3L84 725.4L88 731.2L92 738.3L96 747.1L100 757.7L104 767.1L108 775.1L112 782.1L116 788.4L120 794.7L124 801.5L128 808.7L132 815.8L136 822.3L140 828.4L144 834.3L148 839.9L152 845.4L156 850.6L160 855.6L164 860.1L168 864.3L172 868.2L176 872L180 875.7L184 879.4L188 883L192 886.5L196 889.8L200 893L204 896.1L208 899.3L212 902.6L216 905.9L220 909.3L224 912.8L228 916.8L232 921.8L236 927.5L240 932.8L244 937.8L248 942.5L252 947.2L256 952L260 956.9L264 961.7L268 966.5L272 971.2L276 975.7L280 980.1L284 984.4L288 988.6L292 992.9L296 997L300 1000.8L304 1004.2L308 1007.2L312 1010L316 1012.5L320 1014.9L324 1016.9L328 1018.8L332 1020.7L336 1022.7L340 1024.6L344 1026.5L348 1028.2L352 1029.7L356 1031.1L360 1032.4L364 1033.7L368 1034.8L372 1035.9L376 1036.9L380 1037.8L384 1038.7L388 1039.6L392 1040.3L396 1041L400 1041.6L404 1042.2L408 1042.7L412 1043.2L416 1043.7L420 1044.1L424 1044.5L428 1044.8L432 1045.1L436 1045.3L440 1045.6L444 1045.8L448 1046L452 1046.3L456 1046.5L460 1046.7L464 1046.9L468 1047L472 1047.2L476 1047.4L480 1047.6L484 1047.7L488 1047.9L492 1048L496 1048.2"/>
<path class="c" stroke="#ff00ff" d="M80 728.9L84 733.2L88 739.4L92 747.3L96 757.1L100 769L104 780.2L108 790.5L112 800.4L116 809.9L120 819L124 827.9L128 836.4L132 844.8L136 853.1L140 861.1L144 868.9L148 876.5L152 883.9L156 891.2L160 898.2L164 904.9L168 911.5L172 917.8L176 924L180 930.3L184 936.5L188 942.5L192 948.3L196 953.6L200 958.2L204 961.6L208 964.7L212 968L216 971.2L220 974.4L224 977.6L228 980.8L232 984.2L236 987.4L240 990.3L244 992.9L248 995.3L252 997.6L256 999.9L260 1002.4L264 1004.8L268 1007.2L272 1009.4L276 1011.5L280 1013.5L284 1015.4L288 1017.4L292 1019.5L296 1021.5L300 1023.5L304 1025.3L308 1027L312 1028.6L316 1030.1L320 1031.5L324 1032.8L328 1034L332 1035L336 1036L340 1036.8L344 1037.6L348 1038.3L352 1039L356 1039.7L360 1040.3L364 1040.9L368 1041.4L372 1041.8L376 1042.1L380 1042.5L384 1042.9L388 1043.2L392 1043.5L396 1043.8L400 1044.1L404 1044.3L408 1044.6L412 1044.8L416 1045.1L420 1045.3L424 1045.5L428 1045.7L432 1045.9L436 1046L440 1046.2L444 1046.3L448 1046.5L452 1046.6L456 1046.8L460 1046.9L464 1047.1L468 1047.2L472 1047.4L476 1047.5L480 1047.6L484 1047.8L488 1047.9L492 1048L496 1048.2"/>
<path class="c" stroke="#000" stroke-width="2.4" stroke-dasharray="9.3 4.05" d="M82.7 1014.8H493.4"/>
<path class="c" stroke="#000" stroke-width="2.7" d="M482.3 701.6V1048.5"/>
</g>
<text class="lg" x="479.3" y="933" text-anchor="end">wall</text>
<text class="lg" x="85.9" y="1037.2">cut-off density</text>
<rect x="192.7" y="713.2" width="290.2" height="165" rx="3.5" fill="#fff" fill-opacity="0.8" stroke="#ccc" stroke-width="1.3"/>
<path class="c" stroke="#000" d="M199.9 730H246.3"/>
<text class="lg" transform="translate(262.5 737.7) scale(1.006 1)">Div gas, ant. lower</text>
<path class="c" stroke="#0a800a" d="M199.9 761.9H246.3"/>
<text class="lg" transform="translate(262.5 769.6) scale(1.006 1)">Div gas, ant. upper</text>
<path class="c" stroke="#0000ff" d="M199.9 793.8H246.3"/>
<text class="lg" transform="translate(262.5 801.5) scale(1.006 1)">Mid gas, ant. lower</text>
<path class="c" stroke="#ff00ff" d="M199.9 825.7H246.3"/>
<text class="lg" transform="translate(262.5 833.4) scale(1.006 1)">Mid gas, ant. upper</text>
<path class="c" stroke="#000" stroke-width="2.4" stroke-dasharray="9.6 4.2" d="M200.8 857.6H244.9"/>
<text class="lg" transform="translate(262.5 865.3) scale(1.006 1)">Cut-off density</text>
<rect class="sp" x="82.7" y="701.6" width="410.7" height="346.9"/>
<path class="tm" d="M101.2 1048.5v6M158.8 1048.5v6M216.5 1048.5v6M274.1 1048.5v6M331.8 1048.5v6M389.4 1048.5v6M447.1 1048.5v6M82.7 1048.5h-6M82.7 1009.9h-6M82.7 971.4h-6M82.7 932.8h-6M82.7 894.3h-6M82.7 855.8h-6M82.7 817.2h-6M82.7 778.7h-6M82.7 740.1h-6M82.7 701.6h-6"/>
<text class="tk" x="101.2" y="1073.4" text-anchor="middle">8.175</text>
<text class="tk" x="158.8" y="1073.4" text-anchor="middle">8.200</text>
<text class="tk" x="216.5" y="1073.4" text-anchor="middle">8.225</text>
<text class="tk" x="274.1" y="1073.4" text-anchor="middle">8.250</text>
<text class="tk" x="331.8" y="1073.4" text-anchor="middle">8.275</text>
<text class="tk" x="389.4" y="1073.4" text-anchor="middle">8.300</text>
<text class="tk" x="447.1" y="1073.4" text-anchor="middle">8.325</text>
<text class="yk" x="71.1" y="1055.4" text-anchor="end">0.0</text>
<text class="yk" x="71.1" y="1016.8" text-anchor="end">0.5</text>
<text class="yk" x="71.1" y="978.3" text-anchor="end">1.0</text>
<text class="yk" x="71.1" y="939.7" text-anchor="end">1.5</text>
<text class="yk" x="71.1" y="901.2" text-anchor="end">2.0</text>
<text class="yk" x="71.1" y="862.7" text-anchor="end">2.5</text>
<text class="yk" x="71.1" y="824.1" text-anchor="end">3.0</text>
<text class="yk" x="71.1" y="785.6" text-anchor="end">3.5</text>
<text class="yk" x="71.1" y="747" text-anchor="end">4.0</text>
<text class="yk" x="71.1" y="708.5" text-anchor="end">4.5</text>
<text class="ex" x="83.7" y="696.3">1e19</text>
<text class="yl" transform="translate(29.3 877.5) rotate(-90)" text-anchor="middle">&lt; n<tspan dy="5.3" font-size="22.1px">e</tspan><tspan dy="-5.3" dx="1.5"> &gt;</tspan><tspan dx="2"> [</tspan><tspan dx="-1.8">m</tspan><tspan dy="-11.2" dx="0.6" font-size="21.6px">−</tspan><tspan dx="-0.3" font-size="21.6px">3</tspan><tspan dy="11.2" dx="0.6">]</tspan></text>
<text class="xl" x="288.1" y="1107.6" text-anchor="middle">R [m]</text>
</g>
<g>
<clipPath id="k11"><rect x="534.7" y="701.6" width="410.7" height="346.9"/></clipPath>
<text class="ti" transform="translate(741.3 672) scale(1.035 1)" text-anchor="middle">Case 7 (upshift=20 cm)</text>
<g clip-path="url(#k11)">
<path class="c" stroke="#000" stroke-width="3" d="M531 741.5L535 745.6L539 752.1L543 760.3L547 770.5L551 783.1L555 795.2L559 806.3L563 817.3L567 828.4L571 839.8L575 851.2L579 862.4L583 872.8L587 882.7L591 892.2L595 901.4L599 910.5L603 919.5L607 928.2L611 936.7L615 945L619 953.4L623 961.4L627 968.7L631 975.1L635 980.7L639 985.7L643 990.3L647 994.7L651 998.7L655 1002.6L659 1006.3L663 1009.9L667 1013.2L671 1016.4L675 1019.4L679 1022.2L683 1024.8L687 1027.1L691 1029.2L695 1031.2L699 1033L703 1034.6L707 1036.1L711 1037.5L715 1038.8L719 1040L723 1040.9L727 1041.7L731 1042.4L735 1043.1L739 1043.7L743 1044.3L747 1044.7L751 1045.1L755 1045.4L759 1045.7L763 1046L767 1046.2L771 1046.4L775 1046.6L779 1046.7L783 1046.8L787 1046.9L791 1047L795 1047.1L799 1047.2L803 1047.3L807 1047.3L811 1047.4L815 1047.5L819 1047.5L823 1047.6L827 1047.6L831 1047.7L835 1047.7L839 1047.7L843 1047.8L847 1047.8L851 1047.8L855 1047.8L859 1047.9L863 1047.9L867 1047.9L871 1047.9L875 1047.9L879 1048L883 1048L887 1048L891 1048L895 1048L899 1048L903 1048L907 1048.1L911 1048.1L915 1048.1L919 1048.1L923 1048.1L927 1048.1L931 1048.1L935 1048.1L939 1048.1L943 1048.1L947 1048.1"/>
<path class="c" stroke="#087a08" stroke-width="2" d="M531 741.5L535 745.6L539 752.1L543 760.3L547 770.5L551 783.1L555 795.2L559 806.3L563 817.3L567 828.4L571 839.8L575 851.2L579 862.4L583 872.8L587 882.7L591 892.2L595 901.4L599 910.5L603 919.5L607 928.2L611 936.7L615 945L619 953.4L623 961.4L627 968.7L631 975.1L635 980.7L639 985.7L643 990.3L647 994.7L651 998.7L655 1002.6L659 1006.3L663 1009.9L667 1013.2L671 1016.4L675 1019.4L679 1022.2L683 1024.8L687 1027.1L691 1029.2L695 1031.2L699 1033L703 1034.6L707 1036.1L711 1037.5L715 1038.8L719 1040L723 1040.9L727 1041.7L731 1042.4L735 1043.1L739 1043.7L743 1044.3L747 1044.7L751 1045.1L755 1045.4L759 1045.7L763 1046L767 1046.2L771 1046.4L775 1046.6L779 1046.7L783 1046.8L787 1046.9L791 1047L795 1047.1L799 1047.2L803 1047.3L807 1047.3L811 1047.4L815 1047.5L819 1047.5L823 1047.6L827 1047.6L831 1047.7L835 1047.7L839 1047.7L843 1047.8L847 1047.8L851 1047.8L855 1047.8L859 1047.9L863 1047.9L867 1047.9L871 1047.9L875 1047.9L879 1048L883 1048L887 1048L891 1048L895 1048L899 1048L903 1048L907 1048.1L911 1048.1L915 1048.1L919 1048.1L923 1048.1L927 1048.1L931 1048.1L935 1048.1L939 1048.1L943 1048.1L947 1048.1"/>
<path class="c" stroke="#0000ff" d="M531 725.8L535 728.5L539 733L543 738.8L547 746L551 755.2L555 763.9L559 772L563 779.9L567 787.8L571 795.5L575 803.2L579 810.7L583 818L587 825.2L591 832.1L595 838.7L599 844.6L603 850.1L607 855.1L611 860.1L615 865.1L619 870.1L623 874.9L627 879.5L631 883.9L635 888L639 891.4L643 894L647 896.3L651 898.7L655 901.1L659 903.5L663 906.3L667 909.5L671 913.2L675 916.8L679 920L683 923.3L687 927.6L691 933.1L695 939L699 944.7L703 950.2L707 955.7L711 961L715 966.1L719 971.1L723 975.9L727 980.5L731 984.9L735 989.2L739 993.2L743 997L747 1000.7L751 1004.1L755 1007.2L759 1010.3L763 1013.1L767 1015.7L771 1018L775 1020.1L779 1022.1L783 1023.9L787 1025.6L791 1027.1L795 1028.5L799 1029.8L803 1031L807 1032.2L811 1033.3L815 1034.3L819 1035.3L823 1036.2L827 1037.1L831 1037.8L835 1038.5L839 1039.2L843 1039.8L847 1040.4L851 1040.9L855 1041.5L859 1042L863 1042.5L867 1043L871 1043.4L875 1043.8L879 1044.2L883 1044.5L887 1044.8L891 1045.1L895 1045.4L899 1045.6L903 1045.9L907 1046.1L911 1046.4L915 1046.6L919 1046.8L923 1047L927 1047.3L931 1047.5L935 1047.7L939 1047.8L943 1048L947 1048.2"/>
<path class="c" stroke="#ff00ff" d="M531 731.9L535 734.7L539 739.7L543 746.3L547 754.6L551 765.2L555 775.2L559 784.4L563 793.2L567 802L571 810.5L575 818.9L579 827.2L583 835.5L587 843.8L591 852L595 859.8L599 867L603 873.6L607 879.9L611 886L615 892.2L619 898.3L623 904.4L627 910.2L631 915.9L635 921.3L639 926.1L643 930.2L647 934L651 937.9L655 942L659 946.1L663 949.9L667 953.5L671 956.9L675 960.4L679 964L683 967.7L687 971.3L691 974.8L695 978.1L699 981.4L703 984.5L707 987.5L711 990.4L715 993.2L719 995.9L723 998.7L727 1001.5L731 1004.3L735 1007.1L739 1009.9L743 1012.9L747 1015.8L751 1018.5L755 1020.9L759 1023L763 1025L767 1026.9L771 1028.5L775 1029.9L779 1031.2L783 1032.5L787 1033.7L791 1034.8L795 1035.8L799 1036.7L803 1037.5L807 1038.1L811 1038.7L815 1039.3L819 1039.9L823 1040.5L827 1041.1L831 1041.6L835 1042L839 1042.4L843 1042.8L847 1043.2L851 1043.5L855 1043.8L859 1044.1L863 1044.4L867 1044.6L871 1044.9L875 1045.1L879 1045.4L883 1045.6L887 1045.8L891 1046L895 1046.2L899 1046.4L903 1046.6L907 1046.8L911 1046.9L915 1047.1L919 1047.3L923 1047.4L927 1047.6L931 1047.7L935 1047.8L939 1047.9L943 1048.1L947 1048.2"/>
<path class="c" stroke="#000" stroke-width="2.4" stroke-dasharray="9.3 4.05" d="M534.7 1014.8H945.4"/>
<path class="c" stroke="#000" stroke-width="2.7" d="M933.9 701.6V1048.5"/>
</g>
<rect x="644.7" y="713.2" width="290.2" height="165" rx="3.5" fill="#fff" fill-opacity="0.8" stroke="#ccc" stroke-width="1.3"/>
<path class="c" stroke="#000" d="M651.9 730H698.3"/>
<text class="lg" transform="translate(714.5 737.7) scale(1.006 1)">Div gas, ant. lower</text>
<path class="c" stroke="#0a800a" d="M651.9 761.9H698.3"/>
<text class="lg" transform="translate(714.5 769.6) scale(1.006 1)">Div gas, ant. upper</text>
<path class="c" stroke="#0000ff" d="M651.9 793.8H698.3"/>
<text class="lg" transform="translate(714.5 801.5) scale(1.006 1)">Mid gas, ant. lower</text>
<path class="c" stroke="#ff00ff" d="M651.9 825.7H698.3"/>
<text class="lg" transform="translate(714.5 833.4) scale(1.006 1)">Mid gas, ant. upper</text>
<path class="c" stroke="#000" stroke-width="2.4" stroke-dasharray="9.6 4.2" d="M652.8 857.6H696.9"/>
<text class="lg" transform="translate(714.5 865.3) scale(1.006 1)">Cut-off density</text>
<rect class="sp" x="534.7" y="701.6" width="410.7" height="346.9"/>
<path class="tm" d="M553.2 1048.5v6M610.9 1048.5v6M668.5 1048.5v6M726.2 1048.5v6M783.8 1048.5v6M841.5 1048.5v6M899.1 1048.5v6M534.7 1048.5h-6M534.7 1009.9h-6M534.7 971.4h-6M534.7 932.8h-6M534.7 894.3h-6M534.7 855.8h-6M534.7 817.2h-6M534.7 778.7h-6M534.7 740.1h-6M534.7 701.6h-6"/>
<text class="tk" x="553.2" y="1073.4" text-anchor="middle">8.175</text>
<text class="tk" x="610.9" y="1073.4" text-anchor="middle">8.200</text>
<text class="tk" x="668.5" y="1073.4" text-anchor="middle">8.225</text>
<text class="tk" x="726.2" y="1073.4" text-anchor="middle">8.250</text>
<text class="tk" x="783.8" y="1073.4" text-anchor="middle">8.275</text>
<text class="tk" x="841.5" y="1073.4" text-anchor="middle">8.300</text>
<text class="tk" x="899.1" y="1073.4" text-anchor="middle">8.325</text>
<text class="xl" x="740.1" y="1107.6" text-anchor="middle">R [m]</text>
</g>
<g>
<clipPath id="k12"><rect x="986.6" y="701.6" width="410.7" height="346.9"/></clipPath>
<text class="ti" transform="translate(1190.8 672) scale(1.035 1)" text-anchor="middle">Case 8 (upshift=30 cm)</text>
<g clip-path="url(#k12)">
<path class="c" stroke="#000" stroke-width="3" d="M982 741.5L986 745.6L990 752.1L994 760.3L998 770.5L1002 783.1L1006 795.2L1010 806.3L1014 817.3L1018 828.4L1022 839.8L1026 851.2L1030 862.4L1034 872.8L1038 882.7L1042 892.2L1046 901.4L1050 910.5L1054 919.5L1058 928.2L1062 936.7L1066 945L1070 953.4L1074 961.4L1078 968.7L1082 975.1L1086 980.7L1090 985.7L1094 990.3L1098 994.7L1102 998.7L1106 1002.6L1110 1006.3L1114 1009.9L1118 1013.2L1122 1016.4L1126 1019.4L1130 1022.2L1134 1024.8L1138 1027.1L1142 1029.2L1146 1031.2L1150 1033L1154 1034.6L1158 1036.1L1162 1037.5L1166 1038.8L1170 1040L1174 1040.9L1178 1041.7L1182 1042.4L1186 1043.1L1190 1043.7L1194 1044.3L1198 1044.7L1202 1045.1L1206 1045.4L1210 1045.7L1214 1046L1218 1046.2L1222 1046.4L1226 1046.6L1230 1046.7L1234 1046.8L1238 1046.9L1242 1047L1246 1047.1L1250 1047.2L1254 1047.3L1258 1047.3L1262 1047.4L1266 1047.5L1270 1047.5L1274 1047.6L1278 1047.6L1282 1047.7L1286 1047.7L1290 1047.7L1294 1047.8L1298 1047.8L1302 1047.8L1306 1047.8L1310 1047.9L1314 1047.9L1318 1047.9L1322 1047.9L1326 1047.9L1330 1048L1334 1048L1338 1048L1342 1048L1346 1048L1350 1048L1354 1048L1358 1048.1L1362 1048.1L1366 1048.1L1370 1048.1L1374 1048.1L1378 1048.1L1382 1048.1L1386 1048.1L1390 1048.1L1394 1048.1L1398 1048.1"/>
<path class="c" stroke="#087a08" stroke-width="2" d="M982 741.5L986 745.6L990 752.1L994 760.3L998 770.5L1002 783.1L1006 795.2L1010 806.3L1014 817.3L1018 828.4L1022 839.8L1026 851.2L1030 862.4L1034 872.8L1038 882.7L1042 892.2L1046 901.4L1050 910.5L1054 919.5L1058 928.2L1062 936.7L1066 945L1070 953.4L1074 961.4L1078 968.7L1082 975.1L1086 980.7L1090 985.7L1094 990.3L1098 994.7L1102 998.7L1106 1002.6L1110 1006.3L1114 1009.9L1118 1013.2L1122 1016.4L1126 1019.4L1130 1022.2L1134 1024.8L1138 1027.1L1142 1029.2L1146 1031.2L1150 1033L1154 1034.6L1158 1036.1L1162 1037.5L1166 1038.8L1170 1040L1174 1040.9L1178 1041.7L1182 1042.4L1186 1043.1L1190 1043.7L1194 1044.3L1198 1044.7L1202 1045.1L1206 1045.4L1210 1045.7L1214 1046L1218 1046.2L1222 1046.4L1226 1046.6L1230 1046.7L1234 1046.8L1238 1046.9L1242 1047L1246 1047.1L1250 1047.2L1254 1047.3L1258 1047.3L1262 1047.4L1266 1047.5L1270 1047.5L1274 1047.6L1278 1047.6L1282 1047.7L1286 1047.7L1290 1047.7L1294 1047.8L1298 1047.8L1302 1047.8L1306 1047.8L1310 1047.9L1314 1047.9L1318 1047.9L1322 1047.9L1326 1047.9L1330 1048L1334 1048L1338 1048L1342 1048L1346 1048L1350 1048L1354 1048L1358 1048.1L1362 1048.1L1366 1048.1L1370 1048.1L1374 1048.1L1378 1048.1L1382 1048.1L1386 1048.1L1390 1048.1L1394 1048.1L1398 1048.1"/>
<path class="c" stroke="#0000ff" d="M982 720.2L986 725.4L990 731.5L994 738.4L998 746.4L1002 755.3L1006 763.9L1010 772.1L1014 780L1018 787.7L1022 795.2L1026 802.4L1030 809.5L1034 816.3L1038 823.2L1042 829.8L1046 835.5L1050 840L1054 844.6L1058 850.2L1062 856.4L1066 862.5L1070 868.3L1074 873.9L1078 879.3L1082 884.2L1086 888.9L1090 893.2L1094 897.2L1098 900.9L1102 904.2L1106 907.2L1110 909.5L1114 911.9L1118 914.8L1122 918.5L1126 922.7L1130 927L1134 931.4L1138 935.9L1142 940.6L1146 945.7L1150 951L1154 956.3L1158 961.4L1162 966.4L1166 971.3L1170 976L1174 980.4L1178 984.6L1182 988.6L1186 992.5L1190 996.3L1194 1000.1L1198 1003.9L1202 1007.3L1206 1010.2L1210 1012.8L1214 1015.1L1218 1017.3L1222 1019.5L1226 1021.7L1230 1023.7L1234 1025.5L1238 1027L1242 1028.2L1246 1029.3L1250 1030.4L1254 1031.5L1258 1032.6L1262 1033.7L1266 1034.6L1270 1035.5L1274 1036.3L1278 1037.1L1282 1037.8L1286 1038.6L1290 1039.4L1294 1040.1L1298 1040.7L1302 1041.2L1306 1041.7L1310 1042.2L1314 1042.7L1318 1043.1L1322 1043.5L1326 1043.8L1330 1044.2L1334 1044.5L1338 1044.8L1342 1045.1L1346 1045.4L1350 1045.6L1354 1045.9L1358 1046.1L1362 1046.4L1366 1046.6L1370 1046.8L1374 1047L1378 1047.3L1382 1047.5L1386 1047.7L1390 1047.8L1394 1048L1398 1048.2"/>
<path class="c" stroke="#ff00ff" d="M982 729.8L986 733.2L990 738.3L994 744.8L998 752.7L1002 762.6L1006 771.9L1010 780.5L1014 788.9L1018 797.2L1022 805.4L1026 813.5L1030 821.4L1034 829L1038 836.4L1042 843.6L1046 850.6L1050 857.6L1054 864.7L1058 871.6L1062 878.2L1066 884.3L1070 890.2L1074 895.8L1078 901.1L1082 906.1L1086 910.8L1090 915.1L1094 918.7L1098 921.7L1102 924.5L1106 927.6L1110 930.8L1114 934.4L1118 938.7L1122 943.5L1126 947.9L1130 951.7L1134 955.2L1138 958.7L1142 962.3L1146 966.3L1150 970.4L1154 974.4L1158 978.3L1162 982.1L1166 985.7L1170 989.2L1174 992.6L1178 996L1182 999.2L1186 1002.3L1190 1005.3L1194 1008.2L1198 1011L1202 1013.7L1206 1016.3L1210 1019L1214 1021.4L1218 1023.6L1222 1025.5L1226 1027L1230 1028.4L1234 1029.7L1238 1030.8L1242 1031.8L1246 1032.7L1250 1033.6L1254 1034.5L1258 1035.4L1262 1036.3L1266 1037.1L1270 1037.9L1274 1038.7L1278 1039.4L1282 1040L1286 1040.6L1290 1041L1294 1041.5L1298 1041.9L1302 1042.3L1306 1042.7L1310 1043.1L1314 1043.5L1318 1043.8L1322 1044.2L1326 1044.5L1330 1044.8L1334 1045L1338 1045.3L1342 1045.6L1346 1045.8L1350 1046L1354 1046.2L1358 1046.5L1362 1046.7L1366 1046.9L1370 1047L1374 1047.2L1378 1047.4L1382 1047.6L1386 1047.7L1390 1047.9L1394 1048L1398 1048.2"/>
<path class="c" stroke="#000" stroke-width="2.4" stroke-dasharray="9.3 4.05" d="M986.6 1014.8H1397.3"/>
<path class="c" stroke="#000" stroke-width="2.7" d="M1385.8 701.6V1048.5"/>
</g>
<rect x="1096.6" y="713.2" width="290.2" height="165" rx="3.5" fill="#fff" fill-opacity="0.8" stroke="#ccc" stroke-width="1.3"/>
<path class="c" stroke="#000" d="M1103.8 730H1150.2"/>
<text class="lg" transform="translate(1166.4 737.7) scale(1.006 1)">Div gas, ant. lower</text>
<path class="c" stroke="#0a800a" d="M1103.8 761.9H1150.2"/>
<text class="lg" transform="translate(1166.4 769.6) scale(1.006 1)">Div gas, ant. upper</text>
<path class="c" stroke="#0000ff" d="M1103.8 793.8H1150.2"/>
<text class="lg" transform="translate(1166.4 801.5) scale(1.006 1)">Mid gas, ant. lower</text>
<path class="c" stroke="#ff00ff" d="M1103.8 825.7H1150.2"/>
<text class="lg" transform="translate(1166.4 833.4) scale(1.006 1)">Mid gas, ant. upper</text>
<path class="c" stroke="#000" stroke-width="2.4" stroke-dasharray="9.6 4.2" d="M1104.7 857.6H1148.8"/>
<text class="lg" transform="translate(1166.4 865.3) scale(1.006 1)">Cut-off density</text>
<rect class="sp" x="986.6" y="701.6" width="410.7" height="346.9"/>
<path class="tm" d="M1005.1 1048.5v6M1062.8 1048.5v6M1120.4 1048.5v6M1178 1048.5v6M1235.7 1048.5v6M1293.3 1048.5v6M1351 1048.5v6M986.6 1048.5h-6M986.6 1009.9h-6M986.6 971.4h-6M986.6 932.8h-6M986.6 894.3h-6M986.6 855.8h-6M986.6 817.2h-6M986.6 778.7h-6M986.6 740.1h-6M986.6 701.6h-6"/>
<text class="tk" x="1005.1" y="1073.4" text-anchor="middle">8.175</text>
<text class="tk" x="1062.8" y="1073.4" text-anchor="middle">8.200</text>
<text class="tk" x="1120.4" y="1073.4" text-anchor="middle">8.225</text>
<text class="tk" x="1178" y="1073.4" text-anchor="middle">8.250</text>
<text class="tk" x="1235.7" y="1073.4" text-anchor="middle">8.275</text>
<text class="tk" x="1293.3" y="1073.4" text-anchor="middle">8.300</text>
<text class="tk" x="1351" y="1073.4" text-anchor="middle">8.325</text>
<text class="xl" x="1192" y="1107.6" text-anchor="middle">R [m]</text>
</g>
<g>
<clipPath id="k13"><rect x="1437.6" y="701.6" width="410.7" height="346.9"/></clipPath>
<text class="ti" transform="translate(1641.6 672) scale(1.035 1)" text-anchor="middle">Case 9 (upshift=40 cm)</text>
<g clip-path="url(#k13)">
<path class="c" stroke="#000" stroke-width="3" d="M1434 741.5L1438 745.6L1442 752.1L1446 760.3L1450 770.5L1454 783.1L1458 795.2L1462 806.3L1466 817.3L1470 828.4L1474 839.8L1478 851.2L1482 862.4L1486 872.8L1490 882.7L1494 892.2L1498 901.4L1502 910.5L1506 919.5L1510 928.2L1514 936.7L1518 945L1522 953.4L1526 961.4L1530 968.7L1534 975.1L1538 980.7L1542 985.7L1546 990.3L1550 994.7L1554 998.7L1558 1002.6L1562 1006.3L1566 1009.9L1570 1013.2L1574 1016.4L1578 1019.4L1582 1022.2L1586 1024.8L1590 1027.1L1594 1029.2L1598 1031.2L1602 1033L1606 1034.6L1610 1036.1L1614 1037.5L1618 1038.8L1622 1040L1626 1040.9L1630 1041.7L1634 1042.4L1638 1043.1L1642 1043.7L1646 1044.3L1650 1044.7L1654 1045.1L1658 1045.4L1662 1045.7L1666 1046L1670 1046.2L1674 1046.4L1678 1046.6L1682 1046.7L1686 1046.8L1690 1046.9L1694 1047L1698 1047.1L1702 1047.2L1706 1047.3L1710 1047.3L1714 1047.4L1718 1047.5L1722 1047.5L1726 1047.6L1730 1047.6L1734 1047.7L1738 1047.7L1742 1047.7L1746 1047.8L1750 1047.8L1754 1047.8L1758 1047.8L1762 1047.9L1766 1047.9L1770 1047.9L1774 1047.9L1778 1047.9L1782 1048L1786 1048L1790 1048L1794 1048L1798 1048L1802 1048L1806 1048L1810 1048.1L1814 1048.1L1818 1048.1L1822 1048.1L1826 1048.1L1830 1048.1L1834 1048.1L1838 1048.1L1842 1048.1L1846 1048.1L1850 1048.1"/>
<path class="c" stroke="#087a08" stroke-width="2" d="M1434 741.5L1438 745.6L1442 752.1L1446 760.3L1450 770.5L1454 783.1L1458 795.2L1462 806.3L1466 817.3L1470 828.4L1474 839.8L1478 851.2L1482 862.4L1486 872.8L1490 882.7L1494 892.2L1498 901.4L1502 910.5L1506 919.5L1510 928.2L1514 936.7L1518 945L1522 953.4L1526 961.4L1530 968.7L1534 975.1L1538 980.7L1542 985.7L1546 990.3L1550 994.7L1554 998.7L1558 1002.6L1562 1006.3L1566 1009.9L1570 1013.2L1574 1016.4L1578 1019.4L1582 1022.2L1586 1024.8L1590 1027.1L1594 1029.2L1598 1031.2L1602 1033L1606 1034.6L1610 1036.1L1614 1037.5L1618 1038.8L1622 1040L1626 1040.9L1630 1041.7L1634 1042.4L1638 1043.1L1642 1043.7L1646 1044.3L1650 1044.7L1654 1045.1L1658 1045.4L1662 1045.7L1666 1046L1670 1046.2L1674 1046.4L1678 1046.6L1682 1046.7L1686 1046.8L1690 1046.9L1694 1047L1698 1047.1L1702 1047.2L1706 1047.3L1710 1047.3L1714 1047.4L1718 1047.5L1722 1047.5L1726 1047.6L1730 1047.6L1734 1047.7L1738 1047.7L1742 1047.7L1746 1047.8L1750 1047.8L1754 1047.8L1758 1047.8L1762 1047.9L1766 1047.9L1770 1047.9L1774 1047.9L1778 1047.9L1782 1048L1786 1048L1790 1048L1794 1048L1798 1048L1802 1048L1806 1048L1810 1048.1L1814 1048.1L1818 1048.1L1822 1048.1L1826 1048.1L1830 1048.1L1834 1048.1L1838 1048.1L1842 1048.1L1846 1048.1L1850 1048.1"/>
<path class="c" stroke="#0000ff" d="M1434 724.5L1438 728.5L1442 733.8L1446 740.2L1450 747.7L1454 756.7L1458 765.6L1462 774.1L1466 782.7L1470 791L1474 799.2L1478 807.4L1482 815.2L1486 822.7L1490 829.9L1494 836.7L1498 843.3L1502 849.4L1506 855.3L1510 860.9L1514 866.2L1518 871.4L1522 876.4L1526 881.2L1530 885.8L1534 890.1L1538 894.3L1542 898.1L1546 901.5L1550 904.6L1554 907.4L1558 910.3L1562 913.1L1566 916.1L1570 919.7L1574 924.5L1578 929.9L1582 934.9L1586 939.5L1590 943.9L1594 948.4L1598 952.8L1602 957.1L1606 961.5L1610 966L1614 970.8L1618 975.8L1622 980.6L1626 985.1L1630 989.3L1634 993.4L1638 997.2L1642 1000.8L1646 1004.3L1650 1007.6L1654 1010.6L1658 1013.2L1662 1015.5L1666 1017.6L1670 1019.6L1674 1021.5L1678 1023.4L1682 1025.2L1686 1026.8L1690 1028.1L1694 1029.3L1698 1030.4L1702 1031.4L1706 1032.4L1710 1033.4L1714 1034.3L1718 1035.3L1722 1036.1L1726 1036.9L1730 1037.7L1734 1038.5L1738 1039.2L1742 1039.8L1746 1040.5L1750 1041L1754 1041.5L1758 1041.9L1762 1042.4L1766 1042.8L1770 1043.1L1774 1043.5L1778 1043.8L1782 1044.2L1786 1044.5L1790 1044.8L1794 1045.1L1798 1045.4L1802 1045.6L1806 1045.9L1810 1046.1L1814 1046.4L1818 1046.6L1822 1046.8L1826 1047L1830 1047.3L1834 1047.5L1838 1047.7L1842 1047.8L1846 1048L1850 1048.2"/>
<path class="c" stroke="#ff00ff" d="M1434 731L1438 733.2L1442 737.5L1446 743.4L1450 751L1454 760.9L1458 770.3L1462 779L1466 787.4L1470 795.6L1474 803.8L1478 811.9L1482 819.8L1486 827.5L1490 835L1494 842.3L1498 849.2L1502 855.9L1506 862.2L1510 868.3L1514 874L1518 879.1L1522 883.8L1526 888.1L1530 892.2L1534 896L1538 899.6L1542 902.9L1546 906.1L1550 909.1L1554 912L1558 915.1L1562 918.4L1566 922L1570 926L1574 931L1578 936.3L1582 941.1L1586 945.2L1590 949L1594 953L1598 957.3L1602 961.6L1606 966.1L1610 970.7L1614 975.6L1618 980.6L1622 985.4L1626 989.7L1630 993.6L1634 997.2L1638 1000.6L1642 1003.9L1646 1007.2L1650 1010.3L1654 1013.1L1658 1015.6L1662 1017.7L1666 1019.7L1670 1021.5L1674 1023.3L1678 1025L1682 1026.6L1686 1028.1L1690 1029.3L1694 1030.4L1698 1031.4L1702 1032.3L1706 1033.3L1710 1034.2L1714 1035L1718 1035.9L1722 1036.7L1726 1037.6L1730 1038.4L1734 1039.1L1738 1039.7L1742 1040.3L1746 1040.8L1750 1041.3L1754 1041.8L1758 1042.2L1762 1042.6L1766 1043L1770 1043.4L1774 1043.8L1778 1044.1L1782 1044.5L1786 1044.8L1790 1045.1L1794 1045.4L1798 1045.7L1802 1046L1806 1046.2L1810 1046.4L1814 1046.7L1818 1046.9L1822 1047.1L1826 1047.3L1830 1047.4L1834 1047.6L1838 1047.8L1842 1047.9L1846 1048L1850 1048.2"/>
<path class="c" stroke="#000" stroke-width="2.4" stroke-dasharray="9.3 4.05" d="M1437.6 1014.8H1848.3"/>
<path class="c" stroke="#000" stroke-width="2.7" d="M1836.6 701.6V1048.5"/>
</g>
<rect x="1547.6" y="713.2" width="290.2" height="165" rx="3.5" fill="#fff" fill-opacity="0.8" stroke="#ccc" stroke-width="1.3"/>
<path class="c" stroke="#000" d="M1554.8 730H1601.2"/>
<text class="lg" transform="translate(1617.4 737.7) scale(1.006 1)">Div gas, ant. lower</text>
<path class="c" stroke="#0a800a" d="M1554.8 761.9H1601.2"/>
<text class="lg" transform="translate(1617.4 769.6) scale(1.006 1)">Div gas, ant. upper</text>
<path class="c" stroke="#0000ff" d="M1554.8 793.8H1601.2"/>
<text class="lg" transform="translate(1617.4 801.5) scale(1.006 1)">Mid gas, ant. lower</text>
<path class="c" stroke="#ff00ff" d="M1554.8 825.7H1601.2"/>
<text class="lg" transform="translate(1617.4 833.4) scale(1.006 1)">Mid gas, ant. upper</text>
<path class="c" stroke="#000" stroke-width="2.4" stroke-dasharray="9.6 4.2" d="M1555.7 857.6H1599.8"/>
<text class="lg" transform="translate(1617.4 865.3) scale(1.006 1)">Cut-off density</text>
<rect class="sp" x="1437.6" y="701.6" width="410.7" height="346.9"/>
<path class="tm" d="M1456.1 1048.5v6M1513.8 1048.5v6M1571.4 1048.5v6M1629 1048.5v6M1686.7 1048.5v6M1744.3 1048.5v6M1802 1048.5v6M1437.6 1048.5h-6M1437.6 1009.9h-6M1437.6 971.4h-6M1437.6 932.8h-6M1437.6 894.3h-6M1437.6 855.8h-6M1437.6 817.2h-6M1437.6 778.7h-6M1437.6 740.1h-6M1437.6 701.6h-6"/>
<text class="tk" x="1456.1" y="1073.4" text-anchor="middle">8.175</text>
<text class="tk" x="1513.8" y="1073.4" text-anchor="middle">8.200</text>
<text class="tk" x="1571.4" y="1073.4" text-anchor="middle">8.225</text>
<text class="tk" x="1629" y="1073.4" text-anchor="middle">8.250</text>
<text class="tk" x="1686.7" y="1073.4" text-anchor="middle">8.275</text>
<text class="tk" x="1744.3" y="1073.4" text-anchor="middle">8.300</text>
<text class="tk" x="1802" y="1073.4" text-anchor="middle">8.325</text>
<text class="xl" x="1642.9" y="1107.6" text-anchor="middle">R [m]</text>
</g>
</svg></body></html>
